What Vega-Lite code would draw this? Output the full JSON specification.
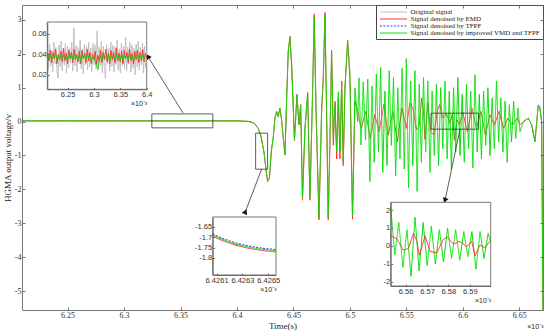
{
"$schema":"https://vega.github.io/schema/vega-lite/v6.json",
"width":521,"height":305,
"autosize":{"type":"none"},
"padding":{"left":22,"top":5,"right":7,"bottom":25},
"background":"white",
"config":{
"view":{"stroke":null},
"locale":{"number":{"decimal":".","thousands":",","grouping":[3],"currency":["$",""],"minus":"-"}},
"axis":{"grid":false,"tickColor":"#555","domainColor":"#555","labelColor":"#333","titleColor":"#222","titleFontWeight":"normal","labelOverlap":false,"labelFlush":false,"tickWidth":0.8,"domainWidth":0.8},
"legend":{"labelFont":"Liberation Serif","labelFontSize":7,"labelColor":"#222","padding":3,"rowPadding":0,"strokeColor":"#444","fillColor":"#ffffff","symbolSize":49,"symbolType":"M-3.9,0H3.9","symbolOffset":10.5,"symbolStrokeWidth":1,"labelOffset":13,"orient":"top-right","offset":0,"cornerRadius":0,"title":null}
},
"datasets":{
"main":[
{"t":6.2096,"v":0.02,"s":"E"},{"t":6.25,"v":0.021,"s":"E"},{"t":6.3,"v":0.019,"s":"E"},{"t":6.35,"v":0.021,"s":"E"},{"t":6.4,"v":0.02,"s":"E"},{"t":6.4097,"v":0.006,"s":"E"},{"t":6.4132,"v":-0.02,"s":"E"},{"t":6.4159,"v":-0.07,"s":"E"},{"t":6.4186,"v":-0.19,"s":"E"},{"t":6.4212,"v":-0.43,"s":"E"},{"t":6.4239,"v":-0.91,"s":"E"},{"t":6.4256,"v":-1.39,"s":"E"},{"t":6.4271,"v":-1.77,"s":"E"},{"t":6.4287,"v":-1.68,"s":"E"},{"t":6.4305,"v":-0.85,"s":"E"},{"t":6.4321,"v":-0.48,"s":"E"},{"t":6.4336,"v":0.11,"s":"E"},{"t":6.4351,"v":0.3,"s":"E"},{"t":6.4365,"v":0.15,"s":"E"},{"t":6.438,"v":0.4,"s":"E"},{"t":6.4395,"v":0.05,"s":"E"},{"t":6.441,"v":-0.49,"s":"E"},{"t":6.4425,"v":-0.98,"s":"E"},{"t":6.444,"v":0.69,"s":"E"},{"t":6.4454,"v":2.1,"s":"E"},{"t":6.4469,"v":2.52,"s":"E"},{"t":6.4484,"v":1.7,"s":"E"},{"t":6.4509,"v":-0.56,"s":"E"},{"t":6.4531,"v":0.8,"s":"E"},{"t":6.4549,"v":-0.1,"s":"E"},{"t":6.4564,"v":0.5,"s":"E"},{"t":6.458,"v":-2.32,"s":"E"},{"t":6.4602,"v":-0.2,"s":"E"},{"t":6.4626,"v":0.85,"s":"E"},{"t":6.4646,"v":-2.32,"s":"E"},{"t":6.4667,"v":0.5,"s":"E"},{"t":6.4684,"v":3.18,"s":"E"},{"t":6.4699,"v":0.45,"s":"E"},{"t":6.4726,"v":-2.9,"s":"E"},{"t":6.475,"v":0.3,"s":"E"},{"t":6.4764,"v":1.3,"s":"E"},{"t":6.4779,"v":3.22,"s":"E"},{"t":6.4794,"v":0.1,"s":"E"},{"t":6.4808,"v":-2.9,"s":"E"},{"t":6.4823,"v":-0.7,"s":"E"},{"t":6.4838,"v":2.1,"s":"E"},{"t":6.4853,"v":-0.7,"s":"E"},{"t":6.4868,"v":0.6,"s":"E"},{"t":6.4883,"v":-1.1,"s":"E"},{"t":6.4897,"v":0.7,"s":"E"},{"t":6.4912,"v":-1.1,"s":"E"},{"t":6.4927,"v":1.2,"s":"E"},{"t":6.4941,"v":-1.3,"s":"E"},{"t":6.4956,"v":1.0,"s":"E"},{"t":6.498,"v":2.4,"s":"E"},{"t":6.5,"v":1.3,"s":"E"},{"t":6.5023,"v":-2.88,"s":"E"},{"t":6.5045,"v":0.6,"s":"E"},
{"t":6.5069,"v":0.3,"s":"E"},{"t":6.51,"v":-0.2,"s":"E"},{"t":6.514,"v":0.3,"s":"E"},{"t":6.518,"v":-0.5,"s":"E"},{"t":6.522,"v":0.2,"s":"E"},{"t":6.526,"v":-0.3,"s":"E"},{"t":6.53,"v":0.5,"s":"E"},{"t":6.534,"v":-0.4,"s":"E"},{"t":6.538,"v":0.3,"s":"E"},{"t":6.542,"v":-0.6,"s":"E"},{"t":6.546,"v":0.4,"s":"E"},{"t":6.55,"v":-0.2,"s":"E"},{"t":6.553,"v":0.55,"s":"E"},{"t":6.5558,"v":0.41,"s":"E"},{"t":6.5589,"v":-0.24,"s":"E"},{"t":6.5613,"v":-0.15,"s":"E"},{"t":6.5636,"v":0.69,"s":"E"},{"t":6.5652,"v":0.3,"s":"E"},{"t":6.5664,"v":-0.52,"s":"E"},{"t":6.5691,"v":0.55,"s":"E"},{"t":6.5714,"v":-0.3,"s":"E"},{"t":6.5745,"v":-0.4,"s":"E"},{"t":6.5776,"v":0.35,"s":"E"},{"t":6.5795,"v":0.5,"s":"E"},{"t":6.5823,"v":0.1,"s":"E"},{"t":6.5854,"v":0.25,"s":"E"},{"t":6.5886,"v":-0.05,"s":"E"},{"t":6.5909,"v":0.25,"s":"E"},{"t":6.5925,"v":-0.55,"s":"E"},{"t":6.5948,"v":0.05,"s":"E"},{"t":6.5971,"v":-0.1,"s":"E"},{"t":6.5998,"v":0.3,"s":"E"},{"t":6.604,"v":-0.3,"s":"E"},{"t":6.608,"v":0.4,"s":"E"},{"t":6.612,"v":-0.2,"s":"E"},{"t":6.616,"v":0.3,"s":"E"},{"t":6.62,"v":-0.4,"s":"E"},{"t":6.624,"v":0.2,"s":"E"},{"t":6.628,"v":-0.1,"s":"E"},{"t":6.632,"v":0.3,"s":"E"},{"t":6.636,"v":-0.2,"s":"E"},{"t":6.64,"v":0.1,"s":"E"},{"t":6.644,"v":-0.1,"s":"E"},{"t":6.648,"v":0.1,"s":"E"},{"t":6.6507,"v":-0.1,"s":"E"},{"t":6.6536,"v":0.0,"s":"E"},{"t":6.658,"v":0.1,"s":"E"},{"t":6.661,"v":-0.1,"s":"E"},{"t":6.6639,"v":-0.59,"s":"E"},{"t":6.6668,"v":0.49,"s":"E"},{"t":6.6683,"v":0.4,"s":"E"},{"t":6.6698,"v":0.0,"s":"E"},{"t":6.6712,"v":-6.5,"s":"E"},
{"t":6.2096,"v":0.02,"s":"I"},{"t":6.25,"v":0.021,"s":"I"},{"t":6.3,"v":0.019,"s":"I"},{"t":6.35,"v":0.021,"s":"I"},{"t":6.4,"v":0.02,"s":"I"},{"t":6.4097,"v":0.006,"s":"I"},{"t":6.4132,"v":-0.02,"s":"I"},{"t":6.4159,"v":-0.07,"s":"I"},{"t":6.4186,"v":-0.19,"s":"I"},{"t":6.4212,"v":-0.42,"s":"I"},{"t":6.4239,"v":-0.89,"s":"I"},{"t":6.4256,"v":-1.37,"s":"I"},{"t":6.4271,"v":-1.75,"s":"I"},{"t":6.4287,"v":-1.66,"s":"I"},{"t":6.4305,"v":-0.83,"s":"I"},{"t":6.4321,"v":-0.48,"s":"I"},{"t":6.4336,"v":0.11,"s":"I"},{"t":6.4351,"v":0.29,"s":"I"},{"t":6.4365,"v":0.15,"s":"I"},{"t":6.438,"v":0.4,"s":"I"},{"t":6.4395,"v":0.05,"s":"I"},{"t":6.441,"v":-0.49,"s":"I"},{"t":6.4425,"v":-0.98,"s":"I"},{"t":6.444,"v":0.69,"s":"I"},{"t":6.4454,"v":2.06,"s":"I"},{"t":6.4469,"v":2.46,"s":"I"},{"t":6.4484,"v":1.67,"s":"I"},{"t":6.4509,"v":-0.54,"s":"I"},{"t":6.4531,"v":0.79,"s":"I"},{"t":6.4549,"v":-0.1,"s":"I"},{"t":6.4564,"v":0.49,"s":"I"},{"t":6.458,"v":-2.25,"s":"I"},{"t":6.4602,"v":-0.19,"s":"I"},{"t":6.4626,"v":0.85,"s":"I"},{"t":6.4646,"v":-2.25,"s":"I"},{"t":6.4667,"v":0.49,"s":"I"},{"t":6.4684,"v":3.09,"s":"I"},{"t":6.4699,"v":0.49,"s":"I"},{"t":6.4726,"v":-2.84,"s":"I"},{"t":6.475,"v":0.49,"s":"I"},{"t":6.4764,"v":1.17,"s":"I"},{"t":6.4779,"v":3.15,"s":"I"},{"t":6.4794,"v":0.29,"s":"I"},{"t":6.4808,"v":-2.84,"s":"I"},{"t":6.4823,"v":-0.48,"s":"I"},{"t":6.4838,"v":2.03,"s":"I"},{"t":6.4853,"v":-0.48,"s":"I"},{"t":6.4868,"v":0.49,"s":"I"},{"t":6.4883,"v":-0.89,"s":"I"},{"t":6.4897,"v":0.88,"s":"I"},{"t":6.4912,"v":-0.89,"s":"I"},{"t":6.4927,"v":1.17,"s":"I"},{"t":6.4941,"v":-1.19,"s":"I"},{"t":6.4956,"v":0.99,"s":"I"},{"t":6.498,"v":2.35,"s":"I"},{"t":6.5,"v":1.47,"s":"I"},{"t":6.5023,"v":-2.75,"s":"I"},{"t":6.5045,"v":0.99,"s":"I"},{"t":6.5069,"v":0.0,"s":"I"},{"t":6.508,"v":1.29,"s":"I"},{"t":6.5098,"v":-0.69,"s":"I"},{"t":6.5118,"v":1.17,"s":"I"},{"t":6.5138,"v":-0.54,"s":"I"},
{"t":6.5158,"v":1.25,"s":"I"},{"t":6.5177,"v":-1.77,"s":"I"},{"t":6.5196,"v":1.05,"s":"I"},{"t":6.5215,"v":-1.2,"s":"I"},{"t":6.5234,"v":1.4,"s":"I"},{"t":6.5253,"v":-0.9,"s":"I"},{"t":6.5272,"v":1.6,"s":"I"},{"t":6.5291,"v":-1.5,"s":"I"},{"t":6.531,"v":0.9,"s":"I"},{"t":6.5329,"v":-1.3,"s":"I"},{"t":6.5348,"v":1.5,"s":"I"},{"t":6.5367,"v":-0.7,"s":"I"},{"t":6.5386,"v":1.3,"s":"I"},{"t":6.5405,"v":-1.6,"s":"I"},{"t":6.5424,"v":1.0,"s":"I"},{"t":6.5443,"v":-1.1,"s":"I"},{"t":6.5462,"v":1.57,"s":"I"},{"t":6.5481,"v":-1.4,"s":"I"},{"t":6.55,"v":1.86,"s":"I"},{"t":6.5519,"v":-1.96,"s":"I"},{"t":6.5538,"v":1.2,"s":"I"},{"t":6.5557,"v":-1.3,"s":"I"},{"t":6.5576,"v":1.5,"s":"I"},{"t":6.5595,"v":-2.06,"s":"I"},{"t":6.5614,"v":1.1,"s":"I"},{"t":6.5633,"v":-1.2,"s":"I"},{"t":6.5652,"v":1.3,"s":"I"},{"t":6.5671,"v":-0.9,"s":"I"},{"t":6.569,"v":1.2,"s":"I"},{"t":6.5709,"v":-1.5,"s":"I"},{"t":6.5728,"v":0.9,"s":"I"},{"t":6.5747,"v":-1.0,"s":"I"},{"t":6.5766,"v":1.1,"s":"I"},{"t":6.5785,"v":-1.3,"s":"I"},{"t":6.5804,"v":1.0,"s":"I"},{"t":6.5823,"v":-0.8,"s":"I"},{"t":6.5842,"v":1.2,"s":"I"},{"t":6.5861,"v":-1.1,"s":"I"},{"t":6.588,"v":0.9,"s":"I"},{"t":6.5899,"v":-1.4,"s":"I"},{"t":6.5918,"v":1.0,"s":"I"},{"t":6.5937,"v":-0.9,"s":"I"},{"t":6.5956,"v":1.3,"s":"I"},{"t":6.5975,"v":-1.0,"s":"I"},{"t":6.5994,"v":0.8,"s":"I"},{"t":6.6013,"v":-1.2,"s":"I"},{"t":6.6032,"v":1.1,"s":"I"},{"t":6.6051,"v":-0.8,"s":"I"},{"t":6.607,"v":0.9,"s":"I"},{"t":6.6089,"v":-1.37,"s":"I"},{"t":6.6108,"v":1.38,"s":"I"},{"t":6.6127,"v":-0.9,"s":"I"},{"t":6.6146,"v":0.8,"s":"I"},{"t":6.6165,"v":-1.1,"s":"I"},{"t":6.6184,"v":0.9,"s":"I"},{"t":6.6203,"v":-0.7,"s":"I"},{"t":6.6222,"v":1.0,"s":"I"},{"t":6.6241,"v":-1.0,"s":"I"},{"t":6.626,"v":0.7,"s":"I"},{"t":6.6279,"v":-0.8,"s":"I"},{"t":6.6298,"v":1.2,"s":"I"},{"t":6.6317,"v":-0.6,"s":"I"},{"t":6.6336,"v":0.7,"s":"I"},{"t":6.6355,"v":-0.9,"s":"I"},{"t":6.6374,"v":0.6,"s":"I"},{"t":6.6393,"v":-1.2,"s":"I"},{"t":6.6412,"v":0.5,"s":"I"},{"t":6.6431,"v":-0.6,"s":"I"},{"t":6.645,"v":0.6,"s":"I"},{"t":6.6469,"v":-0.5,"s":"I"},{"t":6.6488,"v":0.4,"s":"I"},{"t":6.6507,"v":-0.3,"s":"I"},{"t":6.6536,"v":0.0,"s":"I"},{"t":6.658,"v":0.1,"s":"I"},{"t":6.661,"v":-0.1,"s":"I"},{"t":6.6639,"v":-0.59,"s":"I"},{"t":6.6668,"v":0.49,"s":"I"},{"t":6.6683,"v":0.4,"s":"I"},{"t":6.6698,"v":0.0,"s":"I"},{"t":6.6712,"v":-6.5,"s":"I"}
],
"boxes":[
{"x0":6.3246,"x1":6.3786,"y0":-0.185,"y1":0.226},
{"x0":6.4165,"x1":6.4271,"y0":-1.404,"y1":-0.342},
{"x0":6.5718,"x1":6.614,"y0":-0.224,"y1":0.248}
],
"arrows":[
{"a":"A","x1":6.3521,"y1":0.257,"x2":6.3215,"y2":1.9},
{"a":"B","x1":6.4218,"y1":-1.404,"x2":6.4072,"y2":-2.68},
{"a":"C","x1":6.5975,"y1":-0.224,"x2":6.5844,"y2":-2.3}
],
"insA":[
{"t":6.212,"v":0.046,"s":"O"},{"t":6.214,"v":0.026,"s":"O"},{"t":6.216,"v":0.05,"s":"O"},{"t":6.218,"v":0.029,"s":"O"},{"t":6.22,"v":0.044,"s":"O"},{"t":6.222,"v":0.023,"s":"O"},{"t":6.224,"v":0.052,"s":"O"},{"t":6.226,"v":0.031,"s":"O"},{"t":6.228,"v":0.047,"s":"O"},{"t":6.23,"v":0.025,"s":"O"},{"t":6.232,"v":0.017,"s":"O"},{"t":6.234,"v":0.049,"s":"O"},{"t":6.236,"v":0.028,"s":"O"},{"t":6.238,"v":0.053,"s":"O"},{"t":6.24,"v":0.024,"s":"O"},{"t":6.242,"v":0.045,"s":"O"},{"t":6.244,"v":0.03,"s":"O"},{"t":6.246,"v":0.051,"s":"O"},{"t":6.248,"v":0.022,"s":"O"},{"t":6.25,"v":0.048,"s":"O"},{"t":6.252,"v":0.027,"s":"O"},{"t":6.254,"v":0.046,"s":"O"},{"t":6.256,"v":0.032,"s":"O"},{"t":6.258,"v":0.052,"s":"O"},{"t":6.26,"v":0.024,"s":"O"},{"t":6.262,"v":0.066,"s":"O"},{"t":6.264,"v":0.029,"s":"O"},{"t":6.266,"v":0.049,"s":"O"},{"t":6.268,"v":0.023,"s":"O"},{"t":6.27,"v":0.047,"s":"O"},{"t":6.272,"v":0.031,"s":"O"},{"t":6.274,"v":0.054,"s":"O"},{"t":6.276,"v":0.026,"s":"O"},{"t":6.278,"v":0.045,"s":"O"},{"t":6.28,"v":0.021,"s":"O"},{"t":6.282,"v":0.05,"s":"O"},{"t":6.284,"v":0.03,"s":"O"},{"t":6.286,"v":0.048,"s":"O"},{"t":6.288,"v":0.025,"s":"O"},{"t":6.29,"v":0.052,"s":"O"},{"t":6.292,"v":0.028,"s":"O"},{"t":6.294,"v":0.046,"s":"O"},{"t":6.296,"v":0.023,"s":"O"},{"t":6.298,"v":0.051,"s":"O"},{"t":6.3,"v":0.03,"s":"O"},{"t":6.302,"v":0.049,"s":"O"},{"t":6.304,"v":0.026,"s":"O"},{"t":6.306,"v":0.063,"s":"O"},{"t":6.308,"v":0.024,"s":"O"},{"t":6.31,"v":0.047,"s":"O"},{"t":6.312,"v":0.029,"s":"O"},{"t":6.314,"v":0.053,"s":"O"},{"t":6.316,"v":0.022,"s":"O"},{"t":6.318,"v":0.048,"s":"O"},{"t":6.32,"v":0.027,"s":"O"},{"t":6.322,"v":0.016,"s":"O"},{"t":6.324,"v":0.05,"s":"O"},{"t":6.326,"v":0.031,"s":"O"},{"t":6.328,"v":0.046,"s":"O"},{"t":6.33,"v":0.024,"s":"O"},{"t":6.332,"v":0.052,"s":"O"},{"t":6.334,"v":0.028,"s":"O"},{"t":6.336,"v":0.049,"s":"O"},{"t":6.338,"v":0.023,"s":"O"},{"t":6.34,"v":0.047,"s":"O"},{"t":6.342,"v":0.03,"s":"O"},{"t":6.344,"v":0.054,"s":"O"},{"t":6.346,"v":0.025,"s":"O"},{"t":6.348,"v":0.045,"s":"O"},{"t":6.35,"v":0.022,"s":"O"},{"t":6.352,"v":0.051,"s":"O"},{"t":6.354,"v":0.029,"s":"O"},{"t":6.356,"v":0.048,"s":"O"},{"t":6.358,"v":0.026,"s":"O"},{"t":6.36,"v":0.057,"s":"O"},{"t":6.362,"v":0.024,"s":"O"},{"t":6.364,"v":0.047,"s":"O"},{"t":6.366,"v":0.031,"s":"O"},{"t":6.368,"v":0.052,"s":"O"},{"t":6.37,"v":0.023,"s":"O"},{"t":6.372,"v":0.049,"s":"O"},{"t":6.374,"v":0.027,"s":"O"},{"t":6.376,"v":0.046,"s":"O"},{"t":6.378,"v":0.02,"s":"O"},{"t":6.38,"v":0.05,"s":"O"},{"t":6.382,"v":0.028,"s":"O"},{"t":6.384,"v":0.053,"s":"O"},{"t":6.386,"v":0.025,"s":"O"},{"t":6.388,"v":0.047,"s":"O"},{"t":6.39,"v":0.03,"s":"O"},{"t":6.392,"v":0.051,"s":"O"},{"t":6.394,"v":0.022,"s":"O"},{"t":6.396,"v":0.048,"s":"O"},{"t":6.398,"v":0.027,"s":"O"},{"t":6.4,"v":0.045,"s":"O"},
{"t":6.2125,"v":0.041,"s":"E"},{"t":6.215,"v":0.034,"s":"E"},{"t":6.2175,"v":0.044,"s":"E"},{"t":6.22,"v":0.032,"s":"E"},{"t":6.2225,"v":0.042,"s":"E"},{"t":6.225,"v":0.036,"s":"E"},{"t":6.2275,"v":0.045,"s":"E"},{"t":6.23,"v":0.031,"s":"E"},{"t":6.2325,"v":0.04,"s":"E"},{"t":6.235,"v":0.035,"s":"E"},{"t":6.2375,"v":0.043,"s":"E"},{"t":6.24,"v":0.033,"s":"E"},{"t":6.2425,"v":0.046,"s":"E"},{"t":6.245,"v":0.034,"s":"E"},{"t":6.2475,"v":0.041,"s":"E"},{"t":6.25,"v":0.031,"s":"E"},{"t":6.2525,"v":0.044,"s":"E"},{"t":6.255,"v":0.036,"s":"E"},{"t":6.2575,"v":0.042,"s":"E"},{"t":6.26,"v":0.032,"s":"E"},{"t":6.2625,"v":0.045,"s":"E"},{"t":6.265,"v":0.035,"s":"E"},{"t":6.2675,"v":0.04,"s":"E"},{"t":6.27,"v":0.033,"s":"E"},{"t":6.2725,"v":0.043,"s":"E"},{"t":6.275,"v":0.031,"s":"E"},{"t":6.2775,"v":0.044,"s":"E"},{"t":6.28,"v":0.036,"s":"E"},{"t":6.2825,"v":0.041,"s":"E"},{"t":6.285,"v":0.032,"s":"E"},{"t":6.2875,"v":0.045,"s":"E"},{"t":6.29,"v":0.034,"s":"E"},{"t":6.2925,"v":0.042,"s":"E"},{"t":6.295,"v":0.031,"s":"E"},{"t":6.2975,"v":0.04,"s":"E"},{"t":6.3,"v":0.035,"s":"E"},{"t":6.3025,"v":0.043,"s":"E"},{"t":6.305,"v":0.03,"s":"E"},{"t":6.3075,"v":0.039,"s":"E"},{"t":6.31,"v":0.034,"s":"E"},{"t":6.3125,"v":0.044,"s":"E"},{"t":6.315,"v":0.032,"s":"E"},{"t":6.3175,"v":0.042,"s":"E"},{"t":6.32,"v":0.036,"s":"E"},{"t":6.3225,"v":0.045,"s":"E"},{"t":6.325,"v":0.033,"s":"E"},{"t":6.3275,"v":0.041,"s":"E"},{"t":6.33,"v":0.031,"s":"E"},{"t":6.3325,"v":0.044,"s":"E"},{"t":6.335,"v":0.035,"s":"E"},{"t":6.3375,"v":0.042,"s":"E"},{"t":6.34,"v":0.032,"s":"E"},{"t":6.3425,"v":0.046,"s":"E"},{"t":6.345,"v":0.034,"s":"E"},{"t":6.3475,"v":0.041,"s":"E"},{"t":6.35,"v":0.033,"s":"E"},{"t":6.3525,"v":0.043,"s":"E"},{"t":6.355,"v":0.031,"s":"E"},{"t":6.3575,"v":0.044,"s":"E"},{"t":6.36,"v":0.036,"s":"E"},{"t":6.3625,"v":0.042,"s":"E"},{"t":6.365,"v":0.032,"s":"E"},{"t":6.3675,"v":0.045,"s":"E"},{"t":6.37,"v":0.034,"s":"E"},{"t":6.3725,"v":0.041,"s":"E"},{"t":6.375,"v":0.031,"s":"E"},{"t":6.3775,"v":0.043,"s":"E"},{"t":6.38,"v":0.035,"s":"E"},{"t":6.3825,"v":0.044,"s":"E"},{"t":6.385,"v":0.032,"s":"E"},{"t":6.3875,"v":0.042,"s":"E"},{"t":6.39,"v":0.034,"s":"E"},{"t":6.3925,"v":0.045,"s":"E"},{"t":6.395,"v":0.033,"s":"E"},{"t":6.3975,"v":0.041,"s":"E"},{"t":6.4,"v":0.036,"s":"E"},
{"t":6.2125,"v":0.038,"s":"I"},{"t":6.215,"v":0.036,"s":"I"},{"t":6.2175,"v":0.04,"s":"I"},{"t":6.22,"v":0.035,"s":"I"},{"t":6.2225,"v":0.039,"s":"I"},{"t":6.225,"v":0.037,"s":"I"},{"t":6.2275,"v":0.041,"s":"I"},{"t":6.23,"v":0.034,"s":"I"},{"t":6.2325,"v":0.038,"s":"I"},{"t":6.235,"v":0.036,"s":"I"},{"t":6.2375,"v":0.04,"s":"I"},{"t":6.24,"v":0.035,"s":"I"},{"t":6.2425,"v":0.039,"s":"I"},{"t":6.245,"v":0.037,"s":"I"},{"t":6.2475,"v":0.038,"s":"I"},{"t":6.25,"v":0.034,"s":"I"},{"t":6.2525,"v":0.04,"s":"I"},{"t":6.255,"v":0.036,"s":"I"},{"t":6.2575,"v":0.039,"s":"I"},{"t":6.26,"v":0.035,"s":"I"},{"t":6.2625,"v":0.041,"s":"I"},{"t":6.265,"v":0.037,"s":"I"},{"t":6.2675,"v":0.038,"s":"I"},{"t":6.27,"v":0.035,"s":"I"},{"t":6.2725,"v":0.039,"s":"I"},{"t":6.275,"v":0.034,"s":"I"},{"t":6.2775,"v":0.04,"s":"I"},{"t":6.28,"v":0.036,"s":"I"},{"t":6.2825,"v":0.038,"s":"I"},{"t":6.285,"v":0.035,"s":"I"},{"t":6.2875,"v":0.04,"s":"I"},{"t":6.29,"v":0.037,"s":"I"},{"t":6.2925,"v":0.039,"s":"I"},{"t":6.295,"v":0.034,"s":"I"},{"t":6.2975,"v":0.038,"s":"I"},{"t":6.3,"v":0.036,"s":"I"},{"t":6.3025,"v":0.033,"s":"I"},{"t":6.305,"v":0.029,"s":"I"},{"t":6.3075,"v":0.026,"s":"I"},{"t":6.31,"v":0.034,"s":"I"},{"t":6.3125,"v":0.039,"s":"I"},{"t":6.315,"v":0.036,"s":"I"},{"t":6.3175,"v":0.04,"s":"I"},{"t":6.32,"v":0.035,"s":"I"},{"t":6.3225,"v":0.038,"s":"I"},{"t":6.325,"v":0.036,"s":"I"},{"t":6.3275,"v":0.04,"s":"I"},{"t":6.33,"v":0.034,"s":"I"},{"t":6.3325,"v":0.039,"s":"I"},{"t":6.335,"v":0.037,"s":"I"},{"t":6.3375,"v":0.038,"s":"I"},{"t":6.34,"v":0.035,"s":"I"},{"t":6.3425,"v":0.041,"s":"I"},{"t":6.345,"v":0.036,"s":"I"},{"t":6.3475,"v":0.039,"s":"I"},{"t":6.35,"v":0.035,"s":"I"},{"t":6.3525,"v":0.04,"s":"I"},{"t":6.355,"v":0.034,"s":"I"},{"t":6.3575,"v":0.039,"s":"I"},{"t":6.36,"v":0.037,"s":"I"},{"t":6.3625,"v":0.038,"s":"I"},{"t":6.365,"v":0.035,"s":"I"},{"t":6.3675,"v":0.04,"s":"I"},{"t":6.37,"v":0.036,"s":"I"},{"t":6.3725,"v":0.039,"s":"I"},{"t":6.375,"v":0.034,"s":"I"},{"t":6.3775,"v":0.038,"s":"I"},{"t":6.38,"v":0.037,"s":"I"},{"t":6.3825,"v":0.04,"s":"I"},{"t":6.385,"v":0.035,"s":"I"},{"t":6.3875,"v":0.039,"s":"I"},{"t":6.39,"v":0.036,"s":"I"},{"t":6.3925,"v":0.04,"s":"I"},{"t":6.395,"v":0.035,"s":"I"},{"t":6.3975,"v":0.038,"s":"I"},{"t":6.4,"v":0.037,"s":"I"}
],
"insB":[
{"t":6.42607,"v":-1.685,"s":"T"},{"t":6.42615,"v":-1.707,"s":"T"},{"t":6.42625,"v":-1.728,"s":"T"},{"t":6.42635,"v":-1.743,"s":"T"},{"t":6.42645,"v":-1.753,"s":"T"},{"t":6.42656,"v":-1.760,"s":"T"},
{"t":6.42607,"v":-1.696,"s":"E"},{"t":6.42615,"v":-1.718,"s":"E"},{"t":6.42625,"v":-1.739,"s":"E"},{"t":6.42635,"v":-1.754,"s":"E"},{"t":6.42645,"v":-1.764,"s":"E"},{"t":6.42656,"v":-1.771,"s":"E"},
{"t":6.42607,"v":-1.690,"s":"I"},{"t":6.42615,"v":-1.712,"s":"I"},{"t":6.42625,"v":-1.733,"s":"I"},{"t":6.42635,"v":-1.748,"s":"I"},{"t":6.42645,"v":-1.758,"s":"I"},{"t":6.42656,"v":-1.765,"s":"I"}
],
"insC":[
{"t":6.553,"v":0.55,"s":"E"},{"t":6.5558,"v":0.41,"s":"E"},{"t":6.5589,"v":-0.24,"s":"E"},{"t":6.5613,"v":-0.15,"s":"E"},{"t":6.5636,"v":0.69,"s":"E"},{"t":6.5652,"v":0.3,"s":"E"},{"t":6.5664,"v":-0.52,"s":"E"},{"t":6.5691,"v":0.55,"s":"E"},{"t":6.5714,"v":-0.3,"s":"E"},{"t":6.5745,"v":-0.4,"s":"E"},{"t":6.5776,"v":0.35,"s":"E"},{"t":6.5795,"v":0.5,"s":"E"},{"t":6.5823,"v":0.1,"s":"E"},{"t":6.5854,"v":0.25,"s":"E"},{"t":6.5886,"v":-0.05,"s":"E"},{"t":6.5909,"v":0.25,"s":"E"},{"t":6.5925,"v":-0.55,"s":"E"},{"t":6.5948,"v":0.05,"s":"E"},{"t":6.5971,"v":-0.1,"s":"E"},{"t":6.5998,"v":0.3,"s":"E"},
{"t":6.553,"v":2.2,"s":"I"},{"t":6.5549,"v":-0.5,"s":"I"},{"t":6.5568,"v":1.3,"s":"I"},{"t":6.5587,"v":-1.2,"s":"I"},{"t":6.5606,"v":0.9,"s":"I"},{"t":6.5625,"v":-1.7,"s":"I"},{"t":6.5644,"v":1.6,"s":"I"},{"t":6.5663,"v":-1.4,"s":"I"},{"t":6.5682,"v":1.3,"s":"I"},{"t":6.5701,"v":-1.1,"s":"I"},{"t":6.572,"v":1.1,"s":"I"},{"t":6.5739,"v":-1.0,"s":"I"},{"t":6.5758,"v":0.9,"s":"I"},{"t":6.5777,"v":-0.9,"s":"I"},{"t":6.5796,"v":1.0,"s":"I"},{"t":6.5815,"v":-0.7,"s":"I"},{"t":6.5834,"v":0.9,"s":"I"},{"t":6.5853,"v":-0.8,"s":"I"},{"t":6.5872,"v":0.8,"s":"I"},{"t":6.5891,"v":-0.6,"s":"I"},{"t":6.591,"v":0.8,"s":"I"},{"t":6.5929,"v":-1.3,"s":"I"},{"t":6.5948,"v":0.8,"s":"I"},{"t":6.5967,"v":-0.7,"s":"I"},{"t":6.5986,"v":0.7,"s":"I"},{"t":6.5998,"v":0.2,"s":"I"}
]
},
"layer":[
{"data":{"name":"main"},"transform":[{"filter":"datum.s=='E'"}],
"mark":{"type":"line","strokeWidth":1,"clip":true},
"encoding":{
"x":{"field":"t","type":"quantitative","scale":{"domain":[6.2096,6.671],"nice":false,"zero":false},
"axis":{"orient":"bottom","values":[6.25,6.3,6.35,6.4,6.45,6.5,6.55,6.6,6.65],"format":".3~g","labelFont":"Liberation Serif","labelFontSize":8,"tickSize":-3,"labelPadding":4,"title":"Time(s)","titleFont":"Liberation Serif","titleFontSize":9,"titlePadding":2,"zindex":1}},
"y":{"field":"v","type":"quantitative","scale":{"domain":[-5.56,3.44],"nice":false,"zero":false},
"axis":{"orient":"left","values":[-5,-4,-3,-2,-1,0,1,2,3],"format":"d","labelFont":"Liberation Serif","labelFontSize":8,"tickSize":-3,"labelPadding":4,"title":"HGMA output voltage/v","titleFont":"Liberation Serif","titleFontSize":9,"titlePadding":2,"zindex":1}},
"color":{"field":"s","type":"nominal","scale":{"domain":["O","E","T","I"],"range":["#bdbdbd","#ff2a2a","#4040ff","#00e000"]},"legend":{"labelExpr":"{'O':'Original signal','E':'Signal denoised by EMD','T':'Signal denoised by TFPF','I':'Signal denoised by improved VMD and TFPF'}[datum.label]"}},
"strokeDash":{"field":"s","type":"nominal","scale":{"domain":["O","E","T","I"],"range":[[1,0],[1,0],[2,1.5],[1,0]]},"legend":{"labelExpr":"{'O':'Original signal','E':'Signal denoised by EMD','T':'Signal denoised by TFPF','I':'Signal denoised by improved VMD and TFPF'}[datum.label]"}}
}},
{"data":{"name":"main"},"transform":[{"filter":"datum.s=='I'"}],
"mark":{"type":"line","strokeWidth":1,"clip":true},
"encoding":{
"x":{"field":"t","type":"quantitative","scale":{"domain":[6.2096,6.671],"nice":false,"zero":false},"axis":null},
"y":{"field":"v","type":"quantitative","scale":{"domain":[-5.56,3.44],"nice":false,"zero":false},"axis":null},
"color":{"field":"s","type":"nominal"},
"strokeDash":{"field":"s","type":"nominal"}
}},
{"data":{"name":"boxes"},
"mark":{"type":"rect","fill":null,"stroke":"#333","strokeWidth":0.8},
"encoding":{
"x":{"field":"x0","type":"quantitative","scale":{"domain":[6.2096,6.671],"nice":false,"zero":false},
"axis":{"orient":"top","values":[6.25,6.3,6.35,6.4,6.45,6.5,6.55,6.6,6.65],"labels":false,"tickSize":-3,"title":null,"zindex":1}},
"x2":{"field":"x1"},
"y":{"field":"y0","type":"quantitative","scale":{"domain":[-5.56,3.44],"nice":false,"zero":false},
"axis":{"orient":"right","values":[-5,-4,-3,-2,-1,0,1,2,3],"labels":false,"tickSize":-3,"title":null,"zindex":1}},
"y2":{"field":"y1"}
}},
{"data":{"name":"arrows"},
"mark":{"type":"rule","stroke":"#333","strokeWidth":0.8},
"encoding":{
"x":{"field":"x1","type":"quantitative","scale":{"domain":[6.2096,6.671],"nice":false,"zero":false},
"axis":{"orient":"bottom","labels":false,"ticks":false,"domain":false,"title":"×10⁻³","titleFont":"Liberation Sans","titleFontSize":7,"titleAnchor":"end","titlePadding":12}},
"x2":{"field":"x2"},
"y":{"field":"y1","type":"quantitative","scale":{"domain":[-5.56,3.44],"nice":false,"zero":false},"axis":null},
"y2":{"field":"y2"}
}},
{"data":{"name":"arrows"},
"mark":{"type":"point","shape":"triangle","filled":true,"color":"#111","size":34,"opacity":1},
"encoding":{
"x":{"field":"x2","type":"quantitative","scale":{"domain":[6.2096,6.671],"nice":false,"zero":false},"axis":null},
"y":{"field":"y2","type":"quantitative","scale":{"domain":[-5.56,3.44],"nice":false,"zero":false},"axis":null},
"angle":{"field":"a","type":"nominal","scale":{"domain":["A","B","C"],"range":[328,201,192]},"legend":null}
}},
{"data":{"values":[{}]},
"mark":{"type":"rect","fill":"white","stroke":"#555","strokeWidth":0.8},
"encoding":{
"x":{"datum":6.2117,"type":"quantitative","scale":{"domain":[6.2117,6.4],"range":[25.3,124.7],"nice":false,"zero":false},
"axis":{"orient":"bottom","offset":-220.7,"values":[6.25,6.3,6.35,6.4],"format":".3~g","labelFont":"Liberation Sans","labelFontSize":7.5,"tickSize":-2,"labelPadding":3,"title":"×10⁻³","titleFont":"Liberation Sans","titleFontSize":7,"titleAnchor":"end","titlePadding":2,"zindex":1}},
"x2":{"datum":6.4},
"y":{"datum":0.006,"type":"quantitative","scale":{"domain":[0.006,0.0717],"range":[84.3,17],"nice":false,"zero":false},
"axis":{"orient":"left","offset":-25.3,"values":[0.02,0.04,0.06],"format":".2f","labelFont":"Liberation Sans","labelFontSize":7.5,"tickSize":-2,"labelPadding":3,"title":null,"zindex":1}},
"y2":{"datum":0.0717}
}},
{"data":{"name":"insA"},"transform":[{"filter":"datum.s=='O'"}],"mark":{"type":"line","strokeWidth":1},
"encoding":{"x":{"field":"t","type":"quantitative","scale":{"domain":[6.2117,6.4],"range":[25.3,124.7],"nice":false,"zero":false},"axis":null},"y":{"field":"v","type":"quantitative","scale":{"domain":[0.006,0.0717],"range":[84.3,17],"nice":false,"zero":false},"axis":null},"color":{"field":"s","type":"nominal"},"strokeDash":{"field":"s","type":"nominal"}}},
{"data":{"name":"insA"},"transform":[{"filter":"datum.s=='E'"}],"mark":{"type":"line","strokeWidth":1},
"encoding":{"x":{"field":"t","type":"quantitative","scale":{"domain":[6.2117,6.4],"range":[25.3,124.7],"nice":false,"zero":false},"axis":null},"y":{"field":"v","type":"quantitative","scale":{"domain":[0.006,0.0717],"range":[84.3,17],"nice":false,"zero":false},"axis":null},"color":{"field":"s","type":"nominal"},"strokeDash":{"field":"s","type":"nominal"}}},
{"data":{"name":"insA"},"transform":[{"filter":"datum.s=='I'"}],"mark":{"type":"line","strokeWidth":1},
"encoding":{"x":{"field":"t","type":"quantitative","scale":{"domain":[6.2117,6.4],"range":[25.3,124.7],"nice":false,"zero":false},"axis":null},"y":{"field":"v","type":"quantitative","scale":{"domain":[0.006,0.0717],"range":[84.3,17],"nice":false,"zero":false},"axis":null},"color":{"field":"s","type":"nominal"},"strokeDash":{"field":"s","type":"nominal"}}},
{"data":{"values":[{}]},
"mark":{"type":"rect","fill":"white","stroke":"#555","strokeWidth":0.8},
"encoding":{
"x":{"datum":6.42607,"type":"quantitative","scale":{"domain":[6.42607,6.42656],"range":[190.7,254],"nice":false,"zero":false},
"axis":{"orient":"bottom","offset":-35,"values":[6.4261,6.4263,6.4265],"format":".5~g","labelFont":"Liberation Sans","labelFontSize":7.5,"tickSize":-2,"labelPadding":3,"title":"×10⁻³","titleFont":"Liberation Sans","titleFontSize":7,"titleAnchor":"end","titlePadding":2,"zindex":1}},
"x2":{"datum":6.42656},
"y":{"datum":-1.882,"type":"quantitative","scale":{"domain":[-1.882,-1.603],"range":[270,212],"nice":false,"zero":false},
"axis":{"orient":"left","offset":-190.7,"values":[-1.8,-1.75,-1.7,-1.65],"format":".3~g","labelFont":"Liberation Sans","labelFontSize":7.5,"tickSize":-2,"labelPadding":3,"title":null,"zindex":1}},
"y2":{"datum":-1.603}
}},
{"data":{"name":"insB"},"transform":[{"filter":"datum.s=='E'"}],"mark":{"type":"line","strokeWidth":1},
"encoding":{"x":{"field":"t","type":"quantitative","scale":{"domain":[6.42607,6.42656],"range":[190.7,254],"nice":false,"zero":false},"axis":null},"y":{"field":"v","type":"quantitative","scale":{"domain":[-1.882,-1.603],"range":[270,212],"nice":false,"zero":false},"axis":null},"color":{"field":"s","type":"nominal"},"strokeDash":{"field":"s","type":"nominal"}}},
{"data":{"name":"insB"},"transform":[{"filter":"datum.s=='T'"}],"mark":{"type":"line","strokeWidth":1.2},
"encoding":{"x":{"field":"t","type":"quantitative","scale":{"domain":[6.42607,6.42656],"range":[190.7,254],"nice":false,"zero":false},"axis":null},"y":{"field":"v","type":"quantitative","scale":{"domain":[-1.882,-1.603],"range":[270,212],"nice":false,"zero":false},"axis":null},"color":{"field":"s","type":"nominal"},"strokeDash":{"field":"s","type":"nominal"}}},
{"data":{"name":"insB"},"transform":[{"filter":"datum.s=='I'"}],"mark":{"type":"line","strokeWidth":1},
"encoding":{"x":{"field":"t","type":"quantitative","scale":{"domain":[6.42607,6.42656],"range":[190.7,254],"nice":false,"zero":false},"axis":null},"y":{"field":"v","type":"quantitative","scale":{"domain":[-1.882,-1.603],"range":[270,212],"nice":false,"zero":false},"axis":null},"color":{"field":"s","type":"nominal"},"strokeDash":{"field":"s","type":"nominal"}}},
{"data":{"values":[{}]},
"mark":{"type":"rect","fill":"white","stroke":"#555","strokeWidth":0.8},
"encoding":{
"x":{"datum":6.553,"type":"quantitative","scale":{"domain":[6.553,6.5998],"range":[368.7,468.7],"nice":false,"zero":false},
"axis":{"orient":"bottom","offset":-24,"values":[6.56,6.57,6.58,6.59],"format":".3~g","labelFont":"Liberation Sans","labelFontSize":7.5,"tickSize":-2,"labelPadding":3,"title":"×10⁻³","titleFont":"Liberation Sans","titleFontSize":7,"titleAnchor":"end","titlePadding":2,"zindex":1}},
"x2":{"datum":6.5998},
"y":{"datum":-2.24,"type":"quantitative","scale":{"domain":[-2.24,2.43],"range":[281,197.3],"nice":false,"zero":false},
"axis":{"orient":"left","offset":-368.7,"values":[-2,-1,0,1,2],"format":"d","labelFont":"Liberation Sans","labelFontSize":7.5,"tickSize":-2,"labelPadding":3,"title":null,"zindex":1}},
"y2":{"datum":2.43}
}},
{"data":{"name":"insC"},"transform":[{"filter":"datum.s=='I'"}],"mark":{"type":"line","strokeWidth":1},
"encoding":{"x":{"field":"t","type":"quantitative","scale":{"domain":[6.553,6.5998],"range":[368.7,468.7],"nice":false,"zero":false},"axis":null},"y":{"field":"v","type":"quantitative","scale":{"domain":[-2.24,2.43],"range":[281,197.3],"nice":false,"zero":false},"axis":null},"color":{"field":"s","type":"nominal"},"strokeDash":{"field":"s","type":"nominal"}}},
{"data":{"name":"insC"},"transform":[{"filter":"datum.s=='E'"}],"mark":{"type":"line","strokeWidth":1},
"encoding":{"x":{"field":"t","type":"quantitative","scale":{"domain":[6.553,6.5998],"range":[368.7,468.7],"nice":false,"zero":false},"axis":null},"y":{"field":"v","type":"quantitative","scale":{"domain":[-2.24,2.43],"range":[281,197.3],"nice":false,"zero":false},"axis":null},"color":{"field":"s","type":"nominal"},"strokeDash":{"field":"s","type":"nominal"}}}
],
"resolve":{"scale":{"x":"independent","y":"independent"}}
}
